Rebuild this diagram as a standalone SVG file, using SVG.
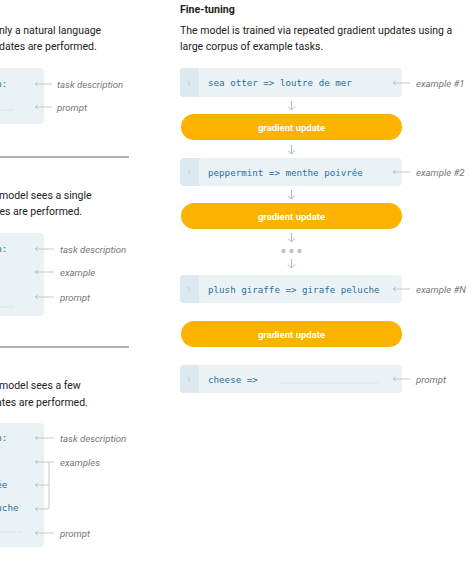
<svg xmlns="http://www.w3.org/2000/svg" width="474" height="573" viewBox="0 0 474 573">
<style>
.body{font-family:Roboto,"Liberation Sans",sans-serif;font-size:10.5px;fill:#222}
.title{font-family:Roboto,"Liberation Sans",sans-serif;font-size:10.6px;font-weight:bold;fill:#222}
.code{font-family:"DejaVu Sans Mono","Liberation Mono",monospace;font-size:9.2px;fill:#2a6f9e}
.ln{font-family:Roboto,"Liberation Sans",sans-serif;font-size:7px;fill:#b8c8d2}
.lbl{font-family:Roboto,"Liberation Sans",sans-serif;font-size:9.6px;font-style:italic;fill:#777}
.box{fill:#eaf2f6}
.gut{fill:#dde9f0}
.pill{fill:#fbb300}
.pt{font-family:Roboto,"Liberation Sans",sans-serif;font-size:9.5px;font-weight:bold;fill:#fff}
.dot{stroke:#b8c8d2;stroke-width:0.8;stroke-dasharray:1 1.5;fill:none}
.la{stroke:#bbb;stroke-width:0.8;fill:none}
.da{stroke:#9fb3c2;stroke-width:0.9;fill:none}
.rule{stroke:#666;stroke-width:1}
</style>
<defs>
<marker id="ah" viewBox="0 0 6 6" refX="1" refY="3" markerWidth="6" markerHeight="6" orient="auto" markerUnits="userSpaceOnUse">
<path d="M4,1 L1,3 L4,5" fill="none" stroke="#bbb" stroke-width="0.8"/>
</marker>
</defs>

<!-- left: zero-shot -->
<g id="zero-shot">
<text class="body" x="-1" y="33.5">nly a natural language</text>
<text class="body" x="-1" y="50">dates are performed.</text>
<rect class="box" x="-20" y="68" width="64" height="56" rx="4"/>
<text class="code" x="-147.5" y="87">Translate English to French:</text>
<line class="dot" x1="-10" y1="110" x2="15" y2="110"/>
</g>
<g id="zero-labels">
<text class="lbl" x="57" y="87.5">task description</text>
<text class="lbl" x="57" y="110.5">prompt</text>
</g>
<line class="rule" x1="0" y1="157" x2="129" y2="157"/>

<!-- left: one-shot -->
<g id="one-shot">
<text class="body" x="-1" y="199">model sees a single</text>
<text class="body" x="-4" y="215">tes are performed.</text>
<rect class="box" x="-20" y="233" width="64" height="83" rx="4"/>
<text class="code" x="-147.5" y="252">Translate English to French:</text>
<line class="dot" x1="-10" y1="307" x2="15" y2="307"/>
</g>
<g id="one-labels">
<text class="lbl" x="60" y="252.5">task description</text>
<text class="lbl" x="60" y="275.5">example</text>
<text class="lbl" x="60" y="300.5">prompt</text>
</g>
<line class="rule" x1="0" y1="347" x2="129" y2="347"/>

<!-- left: few-shot -->
<g id="few-shot">
<text class="body" x="-1" y="389">model sees a few</text>
<text class="body" x="-4" y="405.5">ates are performed.</text>
<rect class="box" x="-20" y="423" width="64" height="124" rx="4"/>
<text class="code" x="-147.5" y="441">Translate English to French:</text>
<text class="code" x="-147.5" y="465">sea otter =&gt; loutre de mer</text>
<text class="code" x="-147.5" y="488">peppermint =&gt; menthe poivrée</text>
<text class="code" x="-147.5" y="511">plush girafe =&gt; girafe peluche</text>
<line class="dot" x1="-10" y1="532" x2="22" y2="532"/>
</g>
<g id="few-labels">
<text class="lbl" x="60" y="441.5">task description</text>
<text class="lbl" x="60" y="465.5">examples</text>
<text class="lbl" x="60" y="536.5">prompt</text>
</g>

<!-- right: fine-tuning -->
<g id="ft-header">
<text class="title" x="180" y="13">Fine-tuning</text>
<text class="body" x="180" y="34">The model is trained via repeated gradient updates using a</text>
<text class="body" x="180" y="50">large corpus of example tasks.</text>
</g>
<g id="ex1">
<rect class="box" x="180" y="68" width="222" height="29" rx="4"/>
<path class="gut" d="M184,68 H199 V97 H184 A4,4 0 0 1 180,93 V72 A4,4 0 0 1 184,68 Z"/>
<text class="ln" x="189" y="85.5" text-anchor="middle">1</text>
<text class="code" x="208" y="86">sea otter =&gt; loutre de mer</text>
<text class="lbl" x="416" y="86.5">example #1</text>
</g>
<g id="gu1">
<rect class="pill" x="181" y="114" width="221" height="26" rx="13"/>
<text class="pt" x="291.5" y="130.5" text-anchor="middle">gradient update</text>
</g>
<g id="ex2">
<rect class="box" x="180" y="158" width="222" height="28" rx="4"/>
<path class="gut" d="M184,158 H199 V186 H184 A4,4 0 0 1 180,182 V162 A4,4 0 0 1 184,158 Z"/>
<text class="ln" x="189" y="175" text-anchor="middle">1</text>
<text class="code" x="208" y="175.5">peppermint =&gt; menthe poivrée</text>
<text class="lbl" x="416" y="175.5">example #2</text>
</g>
<g id="gu2">
<rect class="pill" x="181" y="203" width="221" height="26" rx="13"/>
<text class="pt" x="291.5" y="219.5" text-anchor="middle">gradient update</text>
</g>
<g id="ellipsis">
<circle cx="283.5" cy="251" r="2.2" fill="#b8c3cc"/>
<circle cx="291.5" cy="251" r="2.2" fill="#b8c3cc"/>
<circle cx="299.5" cy="251" r="2.2" fill="#b8c3cc"/>
</g>
<g id="exN">
<rect class="box" x="180" y="275" width="222" height="28" rx="4"/>
<path class="gut" d="M184,275 H199 V303 H184 A4,4 0 0 1 180,299 V279 A4,4 0 0 1 184,275 Z"/>
<text class="ln" x="189" y="292" text-anchor="middle">1</text>
<text class="code" x="208" y="292.5">plush giraffe =&gt; girafe peluche</text>
<text class="lbl" x="416" y="292.5">example #N</text>
</g>
<g id="gu3">
<rect class="pill" x="181" y="321" width="221" height="26" rx="13"/>
<text class="pt" x="291.5" y="337.5" text-anchor="middle">gradient update</text>
</g>
<g id="prompt">
<rect class="box" x="180" y="365" width="222" height="28" rx="4"/>
<path class="gut" d="M184,365 H199 V393 H184 A4,4 0 0 1 180,389 V369 A4,4 0 0 1 184,365 Z"/>
<text class="ln" x="189" y="382" text-anchor="middle">1</text>
<text class="code" x="208" y="382.5">cheese =&gt;</text>
<line class="dot" x1="280" y1="383" x2="380" y2="383"/>
<text class="lbl" x="416" y="382.5">prompt</text>
</g>

<g id="connectors">
<line class="la" x1="35" y1="84" x2="52" y2="84" marker-start="url(#ah)"/>
<line class="la" x1="35" y1="107" x2="52" y2="107" marker-start="url(#ah)"/>
<line class="la" x1="35" y1="249" x2="54" y2="249" marker-start="url(#ah)"/>
<line class="la" x1="35" y1="272" x2="54" y2="272" marker-start="url(#ah)"/>
<line class="la" x1="35" y1="297" x2="54" y2="297" marker-start="url(#ah)"/>
<line class="la" x1="35" y1="438" x2="54" y2="438" marker-start="url(#ah)"/>
<line class="la" x1="35" y1="462" x2="54" y2="462" marker-start="url(#ah)"/>
<line class="la" x1="35" y1="485" x2="49" y2="485" marker-start="url(#ah)"/>
<line class="la" x1="35" y1="509" x2="47" y2="509" marker-start="url(#ah)"/>
<path class="la" d="M49,462 V507 A2,2 0 0 1 47,509"/>
<line class="la" x1="35" y1="533" x2="54" y2="533" marker-start="url(#ah)"/>
<line class="la" x1="393" y1="83" x2="410" y2="83" marker-start="url(#ah)"/>
<line class="la" x1="393" y1="172" x2="410" y2="172" marker-start="url(#ah)"/>
<line class="la" x1="393" y1="289" x2="410" y2="289" marker-start="url(#ah)"/>
<line class="la" x1="393" y1="379" x2="410" y2="379" marker-start="url(#ah)"/>
<g class="da">
<path d="M291.5,101 V110 M288,106.5 L291.5,110 L295,106.5"/>
<path d="M291.5,145 V154 M288,150.5 L291.5,154 L295,150.5"/>
<path d="M291.5,190 V199 M288,195.5 L291.5,199 L295,195.5"/>
<path d="M291.5,233 V242 M288,238.5 L291.5,242 L295,238.5"/>
<path d="M291.5,259 V268 M288,264.5 L291.5,268 L295,264.5"/>
</g>
</g>
</svg>
